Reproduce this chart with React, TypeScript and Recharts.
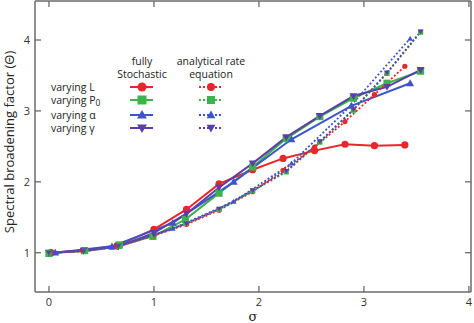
import React from "react";
import { LineChart, Line, XAxis, YAxis } from "recharts";

// sigma values per sweep
const sigmaL = [0.02, 0.33, 0.65, 1.0, 1.31, 1.62, 1.94, 2.23, 2.53, 2.82, 3.1, 3.39];
const sigmaP0 = [0, 0.34, 0.67, 0.99, 1.3, 1.62, 1.94, 2.26, 2.58, 2.9, 3.22, 3.54];
const sigmaAlpha = [0.06, 0.6, 1.18, 1.76, 2.31, 2.88, 3.44];
const sigmaGamma = [0, 0.33, 0.66, 1.0, 1.31, 1.62, 1.94, 2.26, 2.58, 2.9, 3.22, 3.54];

// fully stochastic
const stochL = [1.0, 1.03, 1.1, 1.33, 1.61, 1.97, 2.17, 2.33, 2.44, 2.53, 2.51, 2.52];
const stochP0 = [0.99, 1.03, 1.11, 1.23, 1.47, 1.84, 2.21, 2.61, 2.92, 3.18, 3.39, 3.56];
const stochAlpha = [1.0, 1.09, 1.42, 2.0, 2.6, 3.07, 3.39];
const stochGamma = [1.0, 1.03, 1.09, 1.28, 1.55, 1.92, 2.26, 2.63, 2.93, 3.21, 3.34, 3.58];

// analytical rate equation
const rateL = [1.0, 1.02, 1.08, 1.24, 1.4, 1.6, 1.86, 2.16, 2.49, 2.85, 3.23, 3.63];
const rateP0 = [1.0, 1.02, 1.09, 1.24, 1.41, 1.61, 1.87, 2.14, 2.56, 3.01, 3.53, 4.11];
const rateAlpha = [1.0, 1.07, 1.34, 1.72, 2.26, 3.08, 4.02];
const rateGamma = [1.0, 1.02, 1.09, 1.25, 1.41, 1.62, 1.88, 2.15, 2.57, 3.02, 3.54, 4.12];

const xTicks = [0, 1, 2, 3, 4];
const yTicks = [1, 2, 3, 4];

const RED = "#e8262b";
const GREEN = "#3cb44b";
const BLUE = "#3c55c8";
const PURPLE = "#5b3fa6";
const AXIS = "#6b6b6b";
const FONT = "'Open Sans', sans-serif";

type Shape = "circle" | "square" | "up" | "down";

const toPts = (xs: number[], ys: number[]) => xs.map((x, i) => ({ x, y: ys[i] }));

function Marker({ cx, cy, shape, color, s }: { cx: number; cy: number; shape: Shape; color: string; s: number }) {
  if (shape === "circle") return <circle cx={cx} cy={cy} r={s} fill={color} />;
  if (shape === "square") return <rect x={cx - s} y={cy - s} width={s * 2} height={s * 2} fill={color} />;
  if (shape === "up")
    return <polygon points={`${cx},${cy - s * 1.1} ${cx - s * 1.1},${cy + s * 0.8} ${cx + s * 1.1},${cy + s * 0.8}`} fill={color} />;
  return <polygon points={`${cx},${cy + s * 1.1} ${cx - s * 1.1},${cy - s * 0.8} ${cx + s * 1.1},${cy - s * 0.8}`} fill={color} />;
}

const dotFn = (id: string, shape: Shape, color: string, s: number) => (props: any) => {
  const { cx, cy, index } = props;
  if (cx == null || cy == null) return <g key={`${id}-${index}`} />;
  return (
    <g key={`${id}-${index}`}>
      <Marker cx={cx} cy={cy} shape={shape} color={color} s={s} />
    </g>
  );
};

const series = [
  { id: "sL", data: toPts(sigmaL, stochL), color: RED, shape: "circle" as Shape, dotted: false },
  { id: "sP", data: toPts(sigmaP0, stochP0), color: GREEN, shape: "square" as Shape, dotted: false },
  { id: "sA", data: toPts(sigmaAlpha, stochAlpha), color: BLUE, shape: "up" as Shape, dotted: false },
  { id: "sG", data: toPts(sigmaGamma, stochGamma), color: PURPLE, shape: "down" as Shape, dotted: false },
  { id: "rL", data: toPts(sigmaL, rateL), color: RED, shape: "circle" as Shape, dotted: true },
  { id: "rP", data: toPts(sigmaP0, rateP0), color: GREEN, shape: "square" as Shape, dotted: true },
  { id: "rA", data: toPts(sigmaAlpha, rateAlpha), color: BLUE, shape: "up" as Shape, dotted: true },
  { id: "rG", data: toPts(sigmaGamma, rateGamma), color: PURPLE, shape: "down" as Shape, dotted: true },
];

const BottomTick = (props: any) => {
  const { x, y, payload } = props;
  return (
    <g>
      <line x1={x} x2={x} y1={y} y2={y - 6} stroke={AXIS} strokeWidth={1.3} />
      <text x={x} y={y + 14} textAnchor="middle" fontSize={11} fill="#333" fontFamily={FONT}>
        {payload.value}
      </text>
    </g>
  );
};

const TopTick = (props: any) => {
  const { x, y } = props;
  return <line x1={x} x2={x} y1={y} y2={y + 6} stroke={AXIS} strokeWidth={1.3} />;
};

const LeftTick = (props: any) => {
  const { x, y, payload } = props;
  return (
    <g>
      <line x1={x} x2={x + 6} y1={y} y2={y} stroke={AXIS} strokeWidth={1.3} />
      <text x={x - 5} y={y + 4} textAnchor="end" fontSize={11} fill="#333" fontFamily={FONT}>
        {payload.value}
      </text>
    </g>
  );
};

const RightTick = (props: any) => {
  const { x, y } = props;
  return <line x1={x} x2={x - 6} y1={y} y2={y} stroke={AXIS} strokeWidth={1.3} />;
};

const legendRows = [
  { label: "varying L", sub: "", color: RED, shape: "circle" as Shape },
  { label: "varying P", sub: "0", color: GREEN, shape: "square" as Shape },
  { label: "varying α", sub: "", color: BLUE, shape: "up" as Shape },
  { label: "varying γ", sub: "", color: PURPLE, shape: "down" as Shape },
];
const legendY = [87, 100, 115, 128];

function Overlay() {
  const txt = { fontFamily: FONT, fontSize: 10.5, fill: "#222" };
  return (
    <svg width={474} height={323} style={{ position: "absolute", left: 0, top: 0, pointerEvents: "none" }}>
      <text x={142} y={65} textAnchor="middle" {...txt}>fully</text>
      <text x={142} y={78} textAnchor="middle" {...txt}>Stochastic</text>
      <text x={211} y={65} textAnchor="middle" {...txt}>analytical rate</text>
      <text x={211} y={78} textAnchor="middle" {...txt}>equation</text>
      {legendRows.map((r, i) => (
        <g key={r.label}>
          <text x={51} y={legendY[i] + 4} {...txt}>
            {r.label}
            {r.sub && (
              <tspan fontSize={8.5} dy={2}>{r.sub}</tspan>
            )}
          </text>
          <line x1={130} x2={153} y1={legendY[i]} y2={legendY[i]} stroke={r.color} strokeWidth={2} />
          <Marker cx={142} cy={legendY[i]} shape={r.shape} color={r.color} s={4.5} />
          <line x1={199} x2={223} y1={legendY[i]} y2={legendY[i]} stroke={r.color} strokeWidth={2} strokeDasharray="2 2" />
          <Marker cx={211} cy={legendY[i]} shape={r.shape} color={r.color} s={4} />
        </g>
      ))}
      <text x={253} y={321} textAnchor="middle" fontFamily="'DejaVu Serif', serif" fontSize={13} fill="#222">σ</text>
      <text
        x={0}
        y={0}
        transform="translate(14,142) rotate(-90)"
        textAnchor="middle"
        fontFamily={FONT}
        fontSize={13}
        fill="#222"
      >
        Spectral broadening factor (Θ)
      </text>
    </svg>
  );
}

export default function App() {
  return (
    <div style={{ position: "absolute", left: 0, top: 0, width: 474, height: 323, background: "#fff" }}>
      <LineChart width={474} height={323} margin={{ top: 0, right: 0, bottom: 0, left: 0 }}>
        <XAxis
          xAxisId="b"
          dataKey="x"
          type="number"
          domain={[-0.133, 4.02]}
          ticks={xTicks}
          allowDataOverflow
          height={31}
          tickSize={0}
          tickMargin={0}
          tickLine={false}
          tick={<BottomTick />}
          axisLine={{ stroke: AXIS, strokeWidth: 1.5 }}
        />
        <XAxis
          xAxisId="t"
          orientation="top"
          dataKey="x"
          type="number"
          domain={[-0.133, 4.02]}
          ticks={xTicks}
          allowDataOverflow
          height={1}
          tickSize={0}
          tickMargin={0}
          tickLine={false}
          tick={<TopTick />}
          axisLine={{ stroke: AXIS, strokeWidth: 1.5 }}
        />
        <YAxis
          yAxisId="l"
          type="number"
          domain={[0.446, 4.55]}
          ticks={yTicks}
          allowDataOverflow
          width={35}
          tickSize={0}
          tickMargin={0}
          tickLine={false}
          tick={<LeftTick />}
          axisLine={{ stroke: AXIS, strokeWidth: 1.5 }}
        />
        <YAxis
          yAxisId="r"
          orientation="right"
          type="number"
          domain={[0.446, 4.55]}
          ticks={yTicks}
          allowDataOverflow
          width={3}
          tickSize={0}
          tickMargin={0}
          tickLine={false}
          tick={<RightTick />}
          axisLine={{ stroke: AXIS, strokeWidth: 1.5 }}
        />
        {series.map((s) => (
          <Line
            key={s.id}
            xAxisId="b"
            yAxisId="l"
            data={s.data}
            dataKey="y"
            type="linear"
            stroke={s.color}
            strokeWidth={s.dotted ? 1.8 : 2}
            strokeDasharray={s.dotted ? "2 2" : undefined}
            dot={dotFn(s.id, s.shape, s.color, s.dotted ? 2.6 : 3.6)}
            activeDot={false}
            isAnimationActive={false}
          />
        ))}
      </LineChart>
      <Overlay />
    </div>
  );
}
